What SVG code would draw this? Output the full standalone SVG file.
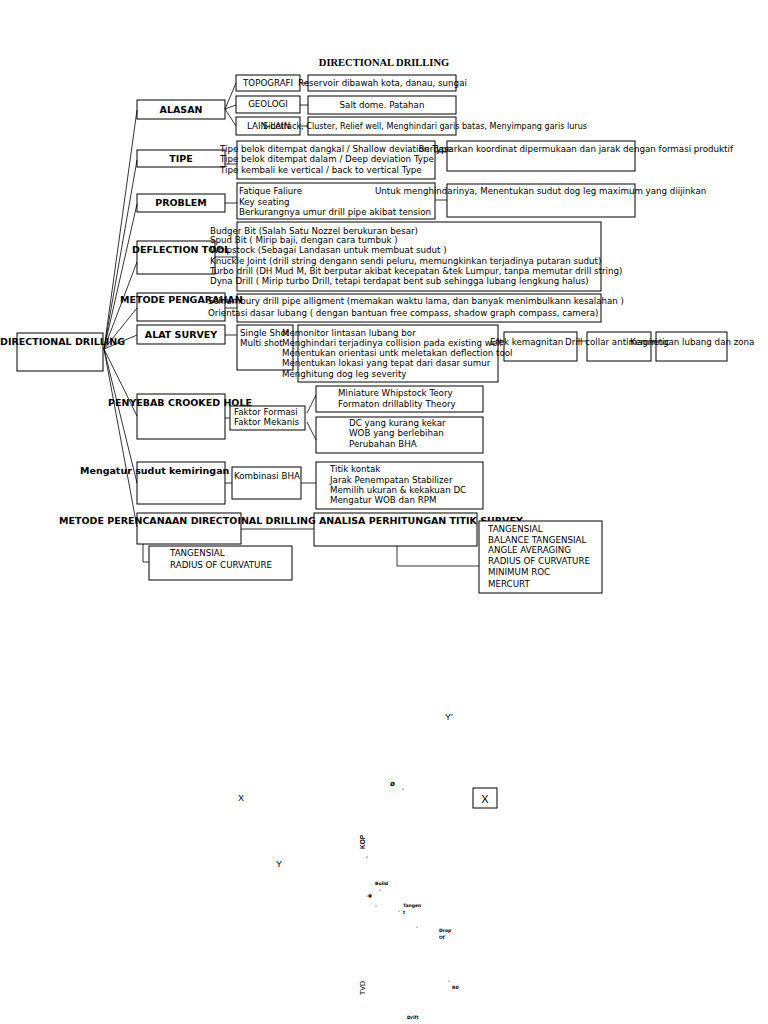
<svg xmlns="http://www.w3.org/2000/svg" width="768" height="1024" viewBox="0 0 768 1024">
<style>
.b{fill:none;stroke:#000;stroke-width:1}
.bw{fill:#fff;stroke:#000;stroke-width:1}
.t{font-family:"DejaVu Sans",sans-serif;font-size:8.7px;fill:#000}
.h{font-family:"DejaVu Sans",sans-serif;font-size:9.5px;font-weight:bold;fill:#000}
.c{text-anchor:middle}
.ln{fill:none;stroke:#000;stroke-width:0.8}
.s{font-family:"DejaVu Sans",sans-serif;font-size:4.5px;font-weight:bold;fill:#000}
.d{fill:#000}
</style>
<rect width="768" height="1024" fill="#fff"/>
<text x="384" y="66" font-family="Liberation Serif,serif" font-size="10.5" font-weight="bold" text-anchor="middle">DIRECTIONAL DRILLING</text>

<g id="connectors">
<path class="ln" d="M104 349L137 110M104 349L137 160M104 349L137 204M104 349L137 262M104 349L137 308M104 349L137 335M104 349L137 416M104 349L137 483M104 349L137 527"/>
<path class="ln" d="M225 109L236 83M225 109L236 105M225 109L236 126M300 83H308M300 105H308M300 126H308"/>
<path class="ln" d="M225 164H237M435 152H447M225 203H237M435 200H447M215 257H237M225 308H237M225 335H237M498 341H504M577 341H587M651 341H656"/>
<path class="ln" d="M225 418H230M307 413L316 395M307 422L316 440M225 483H232M301 483H316"/>
<path class="ln" d="M241 529H314M143 544V562H149M397 546V566H479"/>
</g>

<g id="root">
<rect class="b" x="17" y="333" width="86" height="38"/>
<text class="h" x="0" y="345">DIRECTIONAL DRILLING</text>
</g>

<g id="alasan">
<rect class="b" x="137" y="100" width="88" height="19"/>
<text class="h c" x="181" y="113">ALASAN</text>
</g>
<g id="topografi">
<rect class="b" x="236" y="75" width="64" height="16"/>
<text class="t" x="243" y="86">TOPOGRAFI</text>
</g>
<g id="reservoir">
<rect class="b" x="308" y="75" width="148" height="16"/>
<text class="t" x="298" y="86">Reservoir dibawah kota, danau, sungai</text>
</g>
<g id="geologi">
<rect class="b" x="236" y="96" width="64" height="17"/>
<text class="t c" x="268" y="107">GEOLOGI</text>
</g>
<g id="saltdome">
<rect class="b" x="308" y="96" width="148" height="18"/>
<text class="t c" x="382" y="108">Salt dome. Patahan</text>
</g>
<g id="lainlain">
<rect class="b" x="236" y="117" width="64" height="18"/>
<text class="t" x="247" y="129">LAIN-LAIN</text>
</g>
<g id="sidetrack">
<rect class="b" x="308" y="117" width="148" height="18"/>
<text class="t" x="263" y="129" style="font-size:8.1px">Sidetrack, Cluster, Relief well, Menghindari garis batas, Menyimpang garis lurus</text>
</g>

<g id="tipe">
<rect class="b" x="137" y="150" width="88" height="17"/>
<text class="h c" x="181" y="162">TIPE</text>
</g>
<g id="tipe-list">
<rect class="b" x="237" y="141" width="198" height="38"/>
<text class="t" x="220" y="152">Tipe belok ditempat dangkal / Shallow deviation Type</text>
<text class="t" x="220" y="162">Tipe belok ditempat dalam / Deep deviation Type</text>
<text class="t" x="220" y="173">Tipe kembali ke vertical / back to vertical Type</text>
</g>
<g id="tipe-dasar">
<rect class="b" x="447" y="141" width="188" height="30"/>
<text class="t" x="733" y="152" text-anchor="end">Berdasarkan koordinat dipermukaan dan jarak dengan formasi produktif</text>
</g>

<g id="problem">
<rect class="b" x="137" y="194" width="88" height="18"/>
<text class="h c" x="181" y="206">PROBLEM</text>
</g>
<g id="problem-list">
<rect class="b" x="237" y="183" width="198" height="36"/>
<text class="t" x="239" y="194">Fatique Faliure</text>
<text class="t" x="239" y="205">Key seating</text>
<text class="t" x="239" y="215">Berkurangnya umur drill pipe akibat tension</text>
</g>
<g id="problem-solusi">
<rect class="b" x="447" y="184" width="188" height="33"/>
<text class="t" x="375" y="194">Untuk menghindarinya, Menentukan sudut dog leg maximum yang diijinkan</text>
</g>

<g id="deflection">
<rect class="b" x="137" y="241" width="78" height="33"/>
<text class="h" x="132" y="253">DEFLECTION TOOL</text>
</g>
<g id="deflection-list">
<rect class="b" x="237" y="222" width="364" height="69"/>
<text class="t" x="210" y="234">Budger Bit (Salah Satu Nozzel berukuran besar)</text>
<text class="t" x="210" y="243">Spud Bit ( Mirip baji, dengan cara tumbuk )</text>
<text class="t" x="210" y="253">Whipstock (Sebagai Landasan untuk membuat sudut )</text>
<text class="t" x="210" y="264">Knuckle Joint (drill string dengann sendi peluru, memungkinkan terjadinya putaran sudut)</text>
<text class="t" x="210" y="274">Turbo drill (DH Mud M, Bit berputar akibat kecepatan &amp;tek Lumpur, tanpa memutar drill string)</text>
<text class="t" x="210" y="284">Dyna Drill ( Mirip turbo Drill, tetapi terdapat bent sub sehingga lubang lengkung halus)</text>
</g>

<g id="pengarahan">
<rect class="b" x="137" y="293" width="88" height="28"/>
<text class="h" x="120" y="303">METODE PENGARAHAN</text>
</g>
<g id="pengarahan-list">
<rect class="b" x="237" y="294" width="364" height="28"/>
<text class="t" x="208" y="304">Schlumbury drill pipe alligment (memakan waktu lama, dan banyak menimbulkann  kesalahan )</text>
<text class="t" x="208" y="316">Orientasi dasar lubang ( dengan bantuan free compass, shadow graph compass, camera)</text>
</g>

<g id="alatsurvey">
<rect class="b" x="137" y="325" width="88" height="19"/>
<text class="h c" x="181" y="338">ALAT SURVEY</text>
</g>
<g id="shot">
<rect class="b" x="237" y="325" width="56" height="45"/>
<text class="t" x="240" y="336">Single Shot</text>
<text class="t" x="240" y="346">Multi shot</text>
</g>
<g id="survey-fungsi">
<rect class="b" x="298" y="325" width="200" height="57"/>
<text class="t" x="282" y="336">Memonitor lintasan lubang bor</text>
<text class="t" x="282" y="346">Menghindari terjadinya collision pada existing well</text>
<text class="t" x="282" y="356">Menentukan orientasi untk meletakan deflection tool</text>
<text class="t" x="282" y="366">Menentukan lokasi yang tepat dari dasar sumur</text>
<text class="t" x="282" y="377">Menghitung dog leg severity</text>
</g>
<g id="efek">
<rect class="b" x="504" y="332" width="73" height="29"/>
<text class="t" x="490" y="345">Efek kemagnitan</text>
</g>
<g id="drillcollar">
<rect class="b" x="587" y="332" width="64" height="29"/>
<text class="t" x="565" y="345">Drill collar antimagnetic</text>
</g>
<g id="kemiringan">
<rect class="b" x="656" y="332" width="71" height="29"/>
<text class="t" x="630" y="345">Kemiringan lubang dan zona</text>
</g>

<g id="crooked">
<rect class="b" x="137" y="394" width="88" height="45"/>
<text class="h" x="108" y="406">PENYEBAB CROOKED HOLE</text>
</g>
<g id="faktor">
<rect class="b" x="230" y="406" width="75" height="24"/>
<text class="t" x="234" y="415">Faktor Formasi</text>
<text class="t" x="234" y="425">Faktor Mekanis</text>
</g>
<g id="formasi">
<rect class="b" x="316" y="386" width="167" height="26"/>
<text class="t" x="338" y="396">Miniature Whipstock Teory</text>
<text class="t" x="338" y="407">Formaton drillablity Theory</text>
</g>
<g id="mekanis">
<rect class="b" x="316" y="417" width="167" height="36"/>
<text class="t" x="349" y="426">DC yang kurang kekar</text>
<text class="t" x="349" y="436">WOB yang berlebihan</text>
<text class="t" x="349" y="447">Perubahan BHA</text>
</g>

<g id="mengatur">
<rect class="b" x="137" y="462" width="88" height="42"/>
<text class="h" x="80" y="474">Mengatur sudut kemiringan lubang bor</text>
</g>
<g id="kombinasi">
<rect class="bw" x="232" y="467" width="69" height="32"/>
<text class="t" x="234" y="479">Kombinasi BHA</text>
</g>
<g id="titik">
<rect class="b" x="316" y="462" width="167" height="47"/>
<text class="t" x="330" y="472">Titik kontak</text>
<text class="t" x="330" y="483">Jarak Penempatan Stabilizer</text>
<text class="t" x="330" y="493">Memilih ukuran &amp; kekakuan DC</text>
<text class="t" x="330" y="503">Mengatur WOB dan RPM</text>
</g>

<g id="perencanaan">
<rect class="b" x="137" y="513" width="104" height="31"/>
<text class="h" x="59" y="524">METODE PERENCANAAN DIRECTOINAL DRILLING</text>
</g>
<g id="metode-list">
<rect class="b" x="149" y="546" width="143" height="34"/>
<text class="t" x="170" y="556">TANGENSIAL</text>
<text class="t" x="170" y="568">RADIUS OF CURVATURE</text>
</g>
<g id="analisa">
<rect class="b" x="314" y="513" width="163" height="33"/>
<text class="h" x="319" y="524">ANALISA PERHITUNGAN TITIK SURVEY</text>
</g>
<g id="analisa-list">
<rect class="bw" x="479" y="521" width="123" height="72"/>
<text class="t" x="488" y="532">TANGENSIAL</text>
<text class="t" x="488" y="543">BALANCE TANGENSIAL</text>
<text class="t" x="488" y="553">ANGLE AVERAGING</text>
<text class="t" x="488" y="564">RADIUS OF CURVATURE</text>
<text class="t" x="488" y="575">MINIMUM ROC</text>
<text class="t" x="488" y="587">MERCURT</text>
</g>

<g id="profile">
<text x="445" y="720" font-family="Liberation Sans,sans-serif" font-size="9">Y'</text>
<text x="390" y="786" font-family="Liberation Sans,sans-serif" font-size="8" font-weight="bold">ø</text>
<circle class="d" cx="403" cy="789" r="0.6"/>
<text x="238" y="801" font-family="Liberation Sans,sans-serif" font-size="9">X</text>
<rect class="b" x="473" y="788" width="24" height="20"/>
<text x="485" y="803" font-family="Liberation Sans,sans-serif" font-size="11" text-anchor="middle">X</text>
<text x="276" y="867" font-family="Liberation Sans,sans-serif" font-size="9">Y</text>
<text transform="translate(365 842) rotate(-90)" font-family="Liberation Sans,sans-serif" font-size="6.5" font-weight="bold" text-anchor="middle">KOP</text>
<circle class="d" cx="367" cy="857" r="0.6"/>
<text class="s" x="375" y="885">Build</text>
<circle class="d" cx="380" cy="890" r="0.5"/>
<text x="368" y="897" font-family="DejaVu Sans,sans-serif" font-size="5" font-weight="bold">φ</text>
<circle class="d" cx="367" cy="896" r="0.5"/>
<circle class="d" cx="376" cy="906" r="0.5"/>
<text class="s" x="403" y="907">Tangen</text>
<text class="s" x="403" y="914">t</text>
<circle class="d" cx="399" cy="911" r="0.5"/>
<circle class="d" cx="417" cy="927" r="0.5"/>
<text class="s" x="439" y="932">Drop</text>
<text class="s" x="439" y="939">Of</text>
<text transform="translate(365 988) rotate(-90)" font-family="Liberation Sans,sans-serif" font-size="7" text-anchor="middle">TVD</text>
<circle class="d" cx="449" cy="981" r="0.5"/>
<text class="s" x="452" y="989">R0</text>
<text class="s" x="407" y="1019">Drift</text>
</g>
</svg>
